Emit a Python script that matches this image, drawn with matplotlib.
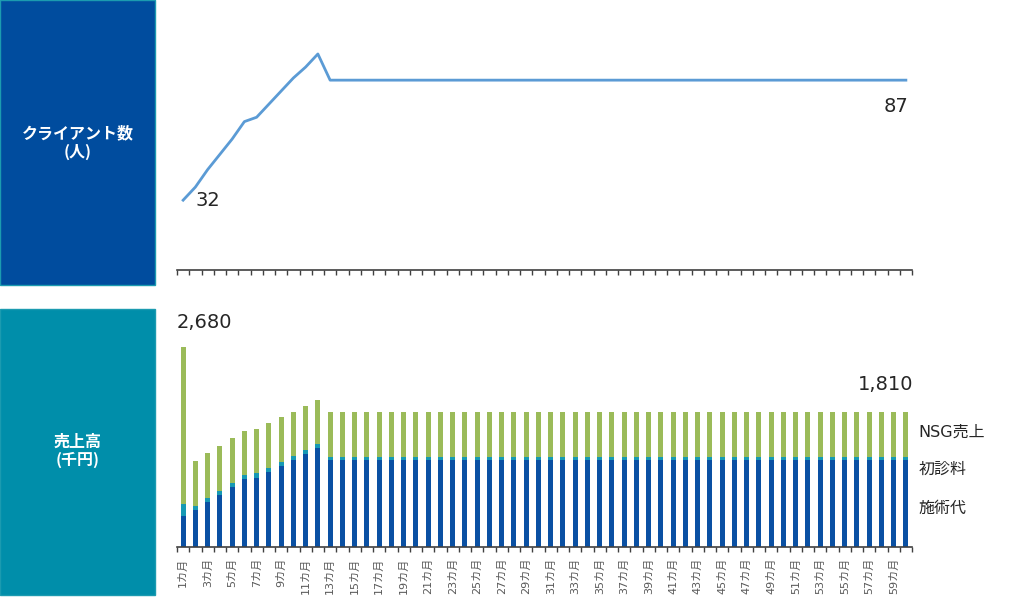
import matplotlib.pyplot as plt
from matplotlib.patches import Rectangle
import numpy as np

plt.rcParams['font.family'] = ['DejaVu Sans', 'Noto Sans CJK JP']

# data
months = [f'{i}カ月' for i in range(1, 61)]
clients = [32, 38, 46, 53, 60, 68, 70, 76, 82, 88, 93, 99] + [87] * 48
treatment = [420, 500, 600, 700, 800, 905, 930, 1010, 1085, 1160, 1240, 1320] + [1160] * 48   # 施術代
first_visit = [160, 50, 55, 55, 55, 55, 55, 55, 55, 55, 55, 55] + [50] * 48                    # 初診料
nsg_sales = [2100, 600, 600, 600, 600, 600, 600, 600, 600, 600, 600, 600] + [600] * 48          # NSG売上
totals = [a + b + c for a, b, c in zip(treatment, first_visit, nsg_sales)]

W, H = 1024, 598
fig = plt.figure(figsize=(W / 100, H / 100), dpi=100)

def fx(px):
    return px / W

def fy(py):
    return 1 - py / H

# left label boxes
fig.patches.append(Rectangle((fx(0), fy(285)), fx(155), 285 / H, transform=fig.transFigure,
                             facecolor='#004C9E', edgecolor='#1B9BB0', linewidth=1))
fig.patches.append(Rectangle((fx(0), fy(595)), fx(155), 286 / H, transform=fig.transFigure,
                             facecolor='#008EAA', edgecolor='#1B9BB0', linewidth=1))
fig.text(fx(78), fy(143), 'クライアント数\n(人)', color='white', fontsize=11.5, fontweight='bold',
         ha='center', va='center', family=['Noto Sans CJK JP'], linespacing=1.2)
fig.text(fx(78), fy(451), '売上高\n(千円)', color='white', fontsize=11.5, fontweight='bold',
         ha='center', va='center', family=['Noto Sans CJK JP'], linespacing=1.2)

x = np.arange(len(months))
ax_col = '#404040'

# top: clients line
ax1 = fig.add_axes([fx(177), fy(270), fx(735), 230 / H])
ax1.plot(x, clients, color='#5B9BD5', linewidth=2)
ax1.set_xlim(-0.5, 59.5)
ax1.set_ylim(0, 105.4)
for s in ['top', 'left', 'right']:
    ax1.spines[s].set_visible(False)
ax1.spines['bottom'].set_color(ax_col)
ax1.spines['bottom'].set_linewidth(1.2)
ax1.set_yticks([])
ax1.set_xticks(np.arange(-0.5, 60, 1))
ax1.set_xticklabels([])
ax1.tick_params(axis='x', length=3.5, width=1, color=ax_col)
ax1.text(1.05, clients[0], str(clients[0]), fontsize=14, ha='left', va='center', color='#262626')
ax1.text(59.2, 74.7, str(clients[-1]), fontsize=14, ha='right', va='center', color='#262626')

# bottom: stacked sales bars
ax2 = fig.add_axes([fx(177), fy(547), fx(735), 217 / H])
bw = 0.42
ax2.bar(x, treatment, bw, color='#0A50A3', edgecolor='none')
ax2.bar(x, first_visit, bw, bottom=treatment, color='#1699B4', edgecolor='none')
ax2.bar(x, nsg_sales, bw, bottom=np.array(treatment) + np.array(first_visit), color='#9BBB59', edgecolor='none')
ax2.set_xlim(-0.5, 59.5)
ax2.set_ylim(0, 2908)
for s in ['top', 'left', 'right']:
    ax2.spines[s].set_visible(False)
ax2.spines['bottom'].set_color(ax_col)
ax2.spines['bottom'].set_linewidth(1.2)
ax2.set_yticks([])
ax2.set_xticks(np.arange(-0.5, 60, 1))
ax2.set_xticklabels([])
ax2.tick_params(axis='x', length=3.5, width=1, color=ax_col)
for i in range(0, 60, 2):
    ax2.text(i, -140, months[i], rotation=90, ha='center', va='top', fontsize=8,
             color='#595959', family=['DejaVu Sans', 'Noto Sans CJK JP'])

ax2.text(-0.57, 3015, f'{totals[0]:,}', fontsize=14, ha='left', va='center', color='#262626', clip_on=False)
ax2.text(59.6, 2171, f'{totals[-1]:,}', fontsize=14, ha='right', va='center', color='#262626', clip_on=False)

ax2.text(60.0, 1541, 'NSG売上', fontsize=11.5, ha='left', va='center', color='#262626',
         family=['DejaVu Sans', 'Noto Sans CJK JP'], clip_on=False)
ax2.text(60.0, 1045, '初診料', fontsize=11.5, ha='left', va='center', color='#262626',
         family=['Noto Sans CJK JP'], clip_on=False)
ax2.text(60.0, 523, '施術代', fontsize=11.5, ha='left', va='center', color='#262626',
         family=['Noto Sans CJK JP'], clip_on=False)

fig.savefig('out.png', dpi=100)
